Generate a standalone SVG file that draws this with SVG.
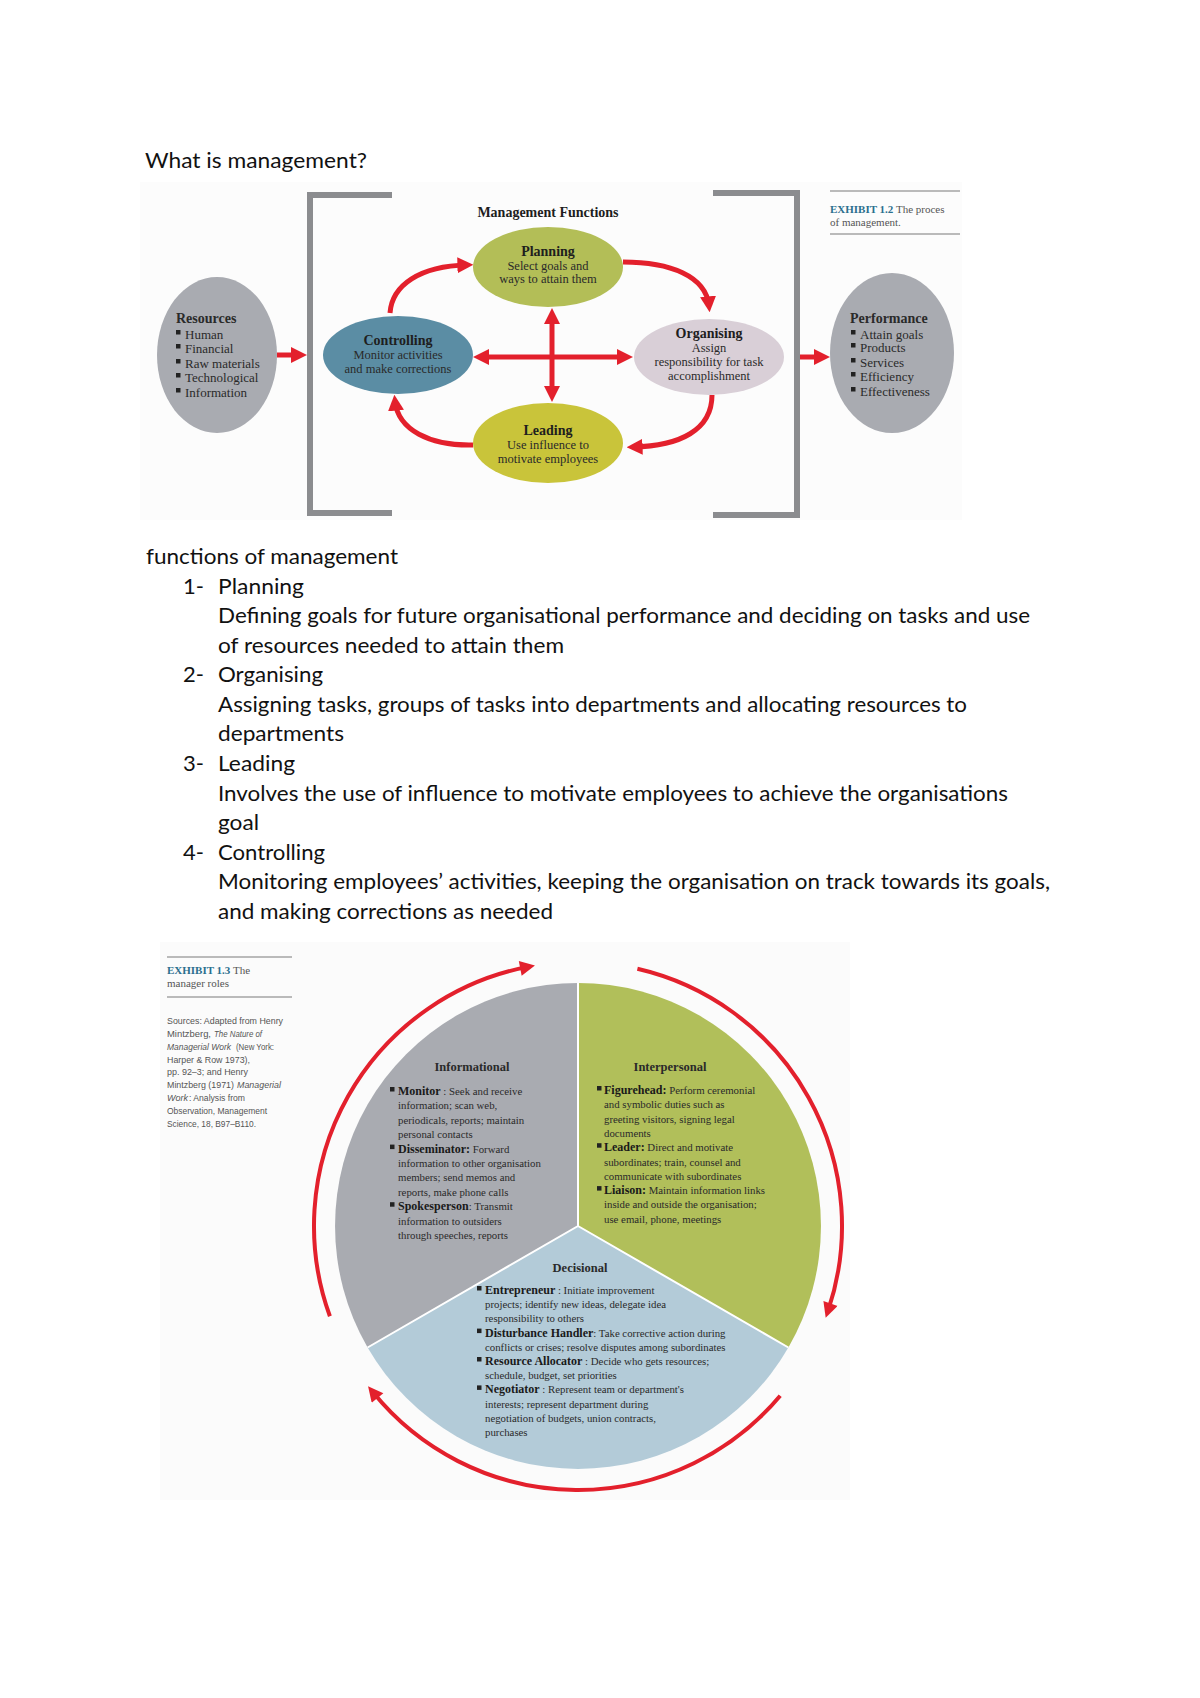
<svg xmlns="http://www.w3.org/2000/svg" width="1200" height="1698" viewBox="0 0 1200 1698">
<style>
.body{font-family:Lato,"Liberation Sans",sans-serif;font-size:22px;fill:#111}
.sr{font-family:"Liberation Serif","DejaVu Serif",serif;fill:#2a2a2a}
.ft{font-size:14px;font-weight:bold;text-anchor:middle;fill:#1e1e1e}
.fs{font-size:12.5px;text-anchor:middle}
.lst{font-size:13px}
.lt{font-size:14px;font-weight:bold}
.pt{font-size:10.8px}
.pb{font-size:12px;font-weight:bold;fill:#1a1a1a}
.ph{font-size:12.5px;font-weight:bold;text-anchor:middle}
.ex{font-family:"Liberation Serif",serif;font-size:11px;fill:#555}
.exb{font-weight:bold;fill:#2b6f8e}
.src{font-family:"Liberation Sans",sans-serif;font-size:9px;fill:#555}
.it{font-style:italic}
.red{fill:none;stroke:#e3202c;stroke-width:5}
.arc{fill:none;stroke:#e3202c;stroke-width:4}
.brk{fill:none;stroke:#8b8c8f;stroke-width:6}
.rule{stroke:#a4a4a4;stroke-width:1.5}
</style>
<defs>
<marker id="ah" viewBox="0 0 10 10" refX="6" refY="5" markerWidth="16" markerHeight="18" markerUnits="userSpaceOnUse" orient="auto-start-reverse"><path d="M0,0 L10,5 L0,10 Z" fill="#e3202c"/></marker>
<marker id="ah2" viewBox="0 0 10 10" refX="5" refY="5" markerWidth="17" markerHeight="15" markerUnits="userSpaceOnUse" orient="auto"><path d="M0,0 L10,5 L0,10 Z" fill="#e3202c"/></marker>
<rect id="bl" width="4.5" height="4.5" fill="#222"/>
</defs>
<rect width="1200" height="1698" fill="#ffffff"/>
<rect x="140" y="182" width="822" height="338" fill="#fcfcfc"/>
<rect x="160" y="942" width="690" height="558" fill="#fbfbfb"/>

<text class="body" x="145" y="168" textLength="222" lengthAdjust="spacingAndGlyphs">What is management?</text>

<!-- Top diagram -->
<g id="brackets">
<path class="brk" d="M392,195 H310 V513 H392"/>
<path class="brk" d="M713,193 H797 V515 H713"/>
</g>
<text class="sr ft" x="548" y="217">Management Functions</text>

<g id="exhibit12">
<line class="rule" x1="830" y1="191" x2="960" y2="191"/>
<text class="ex" x="830" y="213"><tspan class="exb">EXHIBIT 1.2</tspan> The proces</text>
<text class="ex" x="830" y="226">of management.</text>
<line class="rule" x1="830" y1="234" x2="960" y2="234"/>
</g>

<g id="resources">
<ellipse cx="217" cy="355" rx="60" ry="78" fill="#a9abb1"/>
<text class="sr lt" x="176" y="323">Resources</text>
<use href="#bl" x="176" y="330"/><text class="sr lst" x="185" y="339">Human</text>
<use href="#bl" x="176" y="344"/><text class="sr lst" x="185" y="353">Financial</text>
<use href="#bl" x="176" y="359"/><text class="sr lst" x="185" y="368">Raw materials</text>
<use href="#bl" x="176" y="373"/><text class="sr lst" x="185" y="382">Technological</text>
<use href="#bl" x="176" y="388"/><text class="sr lst" x="185" y="397">Information</text>
</g>

<g id="planning">
<ellipse cx="548" cy="267" rx="75" ry="40" fill="#b3be57"/>
<text class="sr ft" x="548" y="256">Planning</text>
<text class="sr fs" x="548" y="270">Select goals and</text>
<text class="sr fs" x="548" y="283">ways to attain them</text>
</g>

<g id="controlling">
<ellipse cx="398" cy="355" rx="75" ry="39" fill="#5b8da4"/>
<text class="sr ft" x="398" y="345">Controlling</text>
<text class="sr fs" x="398" y="359">Monitor activities</text>
<text class="sr fs" x="398" y="373">and make corrections</text>
</g>

<g id="organising">
<ellipse cx="709" cy="357" rx="75" ry="38" fill="#d9cfd7"/>
<text class="sr ft" x="709" y="338">Organising</text>
<text class="sr fs" x="709" y="352">Assign</text>
<text class="sr fs" x="709" y="366">responsibility for task</text>
<text class="sr fs" x="709" y="380">accomplishment</text>
</g>

<g id="leading">
<ellipse cx="548" cy="443" rx="75" ry="40" fill="#c9c43a"/>
<text class="sr ft" x="548" y="435">Leading</text>
<text class="sr fs" x="548" y="449">Use influence to</text>
<text class="sr fs" x="548" y="463">motivate employees</text>
</g>

<g id="performance">
<ellipse cx="892" cy="353" rx="62" ry="80" fill="#a9abb1"/>
<text class="sr lt" x="850" y="323">Performance</text>
<use href="#bl" x="851" y="330"/><text class="sr lst" x="860" y="339">Attain goals</text>
<use href="#bl" x="851" y="343"/><text class="sr lst" x="860" y="352">Products</text>
<use href="#bl" x="851" y="358"/><text class="sr lst" x="860" y="367">Services</text>
<use href="#bl" x="851" y="372"/><text class="sr lst" x="860" y="381">Efficiency</text>
<use href="#bl" x="851" y="387"/><text class="sr lst" x="860" y="396">Effectiveness</text>
</g>

<g id="connectors">
<path class="red" d="M277,355 L300.6,355" marker-end="url(#ah)"/>
<path class="red" d="M800,357 L823.6,357" marker-end="url(#ah)"/>
<path class="red" d="M479.4,357 L626.6,357" marker-start="url(#ah)" marker-end="url(#ah)"/>
<path class="red" d="M552,314.4 L552,395.6" marker-start="url(#ah)" marker-end="url(#ah)"/>
<path class="red" d="M390,313 C392,285 420,266 467,265" marker-end="url(#ah)"/>
<path class="red" d="M623,262 C670,262 706,276 709,306" marker-end="url(#ah)"/>
<path class="red" d="M712,395 C712,430 680,446 633,447" marker-end="url(#ah)"/>
<path class="red" d="M473,445 C430,446 398,430 395,401" marker-end="url(#ah)"/>
<path class="arc" d="M329.9,1316.3 A264,264 0 0 1 527.6,966.9" marker-end="url(#ah2)"/>
<path class="arc" d="M637.4,968.8 A264,264 0 0 1 828.1,1310.6" marker-end="url(#ah2)"/>
<path class="arc" d="M780.2,1395.7 A264,264 0 0 1 372.8,1392.1" marker-end="url(#ah2)"/>
</g>

<!-- Body text -->
<g id="bodytext">
<text class="body" x="146" y="564" textLength="252" lengthAdjust="spacingAndGlyphs">functions of management</text>
<text class="body" x="183" y="593.6">1-</text>
<text class="body" x="218" y="593.6" textLength="86" lengthAdjust="spacingAndGlyphs">Planning</text>
<text class="body" x="218" y="623.1" textLength="812" lengthAdjust="spacingAndGlyphs">Defining goals for future organisational performance and deciding on tasks and use</text>
<text class="body" x="218" y="652.7" textLength="346" lengthAdjust="spacingAndGlyphs">of resources needed to attain them</text>
<text class="body" x="183" y="682.2">2-</text>
<text class="body" x="218" y="682.2" textLength="105" lengthAdjust="spacingAndGlyphs">Organising</text>
<text class="body" x="218" y="711.8" textLength="749" lengthAdjust="spacingAndGlyphs">Assigning tasks, groups of tasks into departments and allocating resources to</text>
<text class="body" x="218" y="741.4" textLength="126" lengthAdjust="spacingAndGlyphs">departments</text>
<text class="body" x="183" y="770.9">3-</text>
<text class="body" x="218" y="770.9" textLength="77" lengthAdjust="spacingAndGlyphs">Leading</text>
<text class="body" x="218" y="800.5" textLength="790" lengthAdjust="spacingAndGlyphs">Involves the use of influence to motivate employees to achieve the organisations</text>
<text class="body" x="218" y="830" textLength="41" lengthAdjust="spacingAndGlyphs">goal</text>
<text class="body" x="183" y="859.6">4-</text>
<text class="body" x="218" y="859.6" textLength="107" lengthAdjust="spacingAndGlyphs">Controlling</text>
<text class="body" x="218" y="889.2" textLength="832" lengthAdjust="spacingAndGlyphs">Monitoring employees’ activities, keeping the organisation on track towards its goals,</text>
<text class="body" x="218" y="918.7" textLength="335" lengthAdjust="spacingAndGlyphs">and making corrections as needed</text>
</g>

<!-- Manager roles -->
<g id="exhibit13">
<line class="rule" x1="167" y1="957" x2="292" y2="957"/>
<text class="ex" x="167" y="974"><tspan class="exb">EXHIBIT 1.3</tspan> The</text>
<text class="ex" x="167" y="987">manager roles</text>
<line class="rule" x1="167" y1="997" x2="292" y2="997"/>
<text class="src" x="167" y="1024" textLength="116" lengthAdjust="spacingAndGlyphs">Sources: Adapted from Henry</text>
<text class="src" x="167" y="1037" textLength="44" lengthAdjust="spacingAndGlyphs">Mintzberg,</text>
<text class="src it" x="214" y="1037" textLength="48" lengthAdjust="spacingAndGlyphs">The Nature of</text>
<text class="src it" x="167" y="1050" textLength="64" lengthAdjust="spacingAndGlyphs">Managerial Work</text>
<text class="src" x="236" y="1050" textLength="38" lengthAdjust="spacingAndGlyphs">(New York:</text>
<text class="src" x="167" y="1063" textLength="83" lengthAdjust="spacingAndGlyphs">Harper &amp; Row 1973),</text>
<text class="src" x="167" y="1075" textLength="81" lengthAdjust="spacingAndGlyphs">pp. 92–3; and Henry</text>
<text class="src" x="167" y="1088" textLength="67" lengthAdjust="spacingAndGlyphs">Mintzberg (1971)</text>
<text class="src it" x="237" y="1088" textLength="44" lengthAdjust="spacingAndGlyphs">Managerial</text>
<text class="src it" x="167" y="1101" textLength="21" lengthAdjust="spacingAndGlyphs">Work</text>
<text class="src" x="189" y="1101" textLength="56" lengthAdjust="spacingAndGlyphs">: Analysis from</text>
<text class="src" x="167" y="1114" textLength="100" lengthAdjust="spacingAndGlyphs">Observation, Management</text>
<text class="src" x="167" y="1127" textLength="89" lengthAdjust="spacingAndGlyphs">Science, 18, B97–B110.</text>
</g>

<g id="informational">
<path d="M578,1226 L578,983 A243,243 0 0 0 367.6,1347.5 Z" fill="#a9abb1"/>
<text class="sr ph" x="472" y="1071">Informational</text>
<use href="#bl" x="390" y="1087"/>
<text class="sr pt" x="398" y="1095"><tspan class="pb">Monitor</tspan> : Seek and receive</text>
<text class="sr pt" x="398" y="1109.4">information; scan web,</text>
<text class="sr pt" x="398" y="1123.8">periodicals, reports; maintain</text>
<text class="sr pt" x="398" y="1138.2">personal contacts</text>
<use href="#bl" x="390" y="1144.6"/>
<text class="sr pt" x="398" y="1152.6"><tspan class="pb">Disseminator:</tspan> Forward</text>
<text class="sr pt" x="398" y="1167">information to other organisation</text>
<text class="sr pt" x="398" y="1181.4">members; send memos and</text>
<text class="sr pt" x="398" y="1195.8">reports, make phone calls</text>
<use href="#bl" x="390" y="1202.2"/>
<text class="sr pt" x="398" y="1210.2"><tspan class="pb">Spokesperson</tspan>: Transmit</text>
<text class="sr pt" x="398" y="1224.6">information to outsiders</text>
<text class="sr pt" x="398" y="1239">through speeches, reports</text>
</g>

<g id="interpersonal">
<path d="M578,1226 L578,983 A243,243 0 0 1 788.4,1347.5 Z" fill="#b1bf5a"/>
<text class="sr ph" x="670" y="1071">Interpersonal</text>
<use href="#bl" x="597" y="1086"/>
<text class="sr pt" x="604" y="1094"><tspan class="pb">Figurehead:</tspan> Perform ceremonial</text>
<text class="sr pt" x="604" y="1108.3">and symbolic duties such as</text>
<text class="sr pt" x="604" y="1122.6">greeting visitors, signing legal</text>
<text class="sr pt" x="604" y="1136.9">documents</text>
<use href="#bl" x="597" y="1143.2"/>
<text class="sr pt" x="604" y="1151.2"><tspan class="pb">Leader:</tspan> Direct and motivate</text>
<text class="sr pt" x="604" y="1165.5">subordinates; train, counsel and</text>
<text class="sr pt" x="604" y="1179.8">communicate with subordinates</text>
<use href="#bl" x="597" y="1186.1"/>
<text class="sr pt" x="604" y="1194.1"><tspan class="pb">Liaison:</tspan> Maintain information links</text>
<text class="sr pt" x="604" y="1208.4">inside and outside the organisation;</text>
<text class="sr pt" x="604" y="1222.7">use email, phone, meetings</text>
</g>

<g id="decisional">
<path d="M578,1226 L788.4,1347.5 A243,243 0 0 1 367.6,1347.5 Z" fill="#b3cbd8"/>
<text class="sr ph" x="580" y="1272">Decisional</text>
<use href="#bl" x="477" y="1286"/>
<text class="sr pt" x="485" y="1294"><tspan class="pb">Entrepreneur</tspan> : Initiate improvement</text>
<text class="sr pt" x="485" y="1308.2">projects; identify new ideas, delegate idea</text>
<text class="sr pt" x="485" y="1322.4">responsibility to others</text>
<use href="#bl" x="477" y="1328.6"/>
<text class="sr pt" x="485" y="1336.6"><tspan class="pb">Disturbance Handler</tspan>: Take corrective action during</text>
<text class="sr pt" x="485" y="1350.8">conflicts or crises; resolve disputes among subordinates</text>
<use href="#bl" x="477" y="1357"/>
<text class="sr pt" x="485" y="1365"><tspan class="pb">Resource Allocator</tspan> : Decide who gets resources;</text>
<text class="sr pt" x="485" y="1379.2">schedule, budget, set priorities</text>
<use href="#bl" x="477" y="1385.4"/>
<text class="sr pt" x="485" y="1393.4"><tspan class="pb">Negotiator</tspan> : Represent team or department's</text>
<text class="sr pt" x="485" y="1407.6">interests; represent department during</text>
<text class="sr pt" x="485" y="1421.8">negotiation of budgets, union contracts,</text>
<text class="sr pt" x="485" y="1436">purchases</text>
</g>
<g id="dividers" stroke="#ffffff" stroke-width="2" fill="none">
<path d="M578,983 L578,1226 L367.6,1347.5 M578,1226 L788.4,1347.5"/>
</g>
</svg>
